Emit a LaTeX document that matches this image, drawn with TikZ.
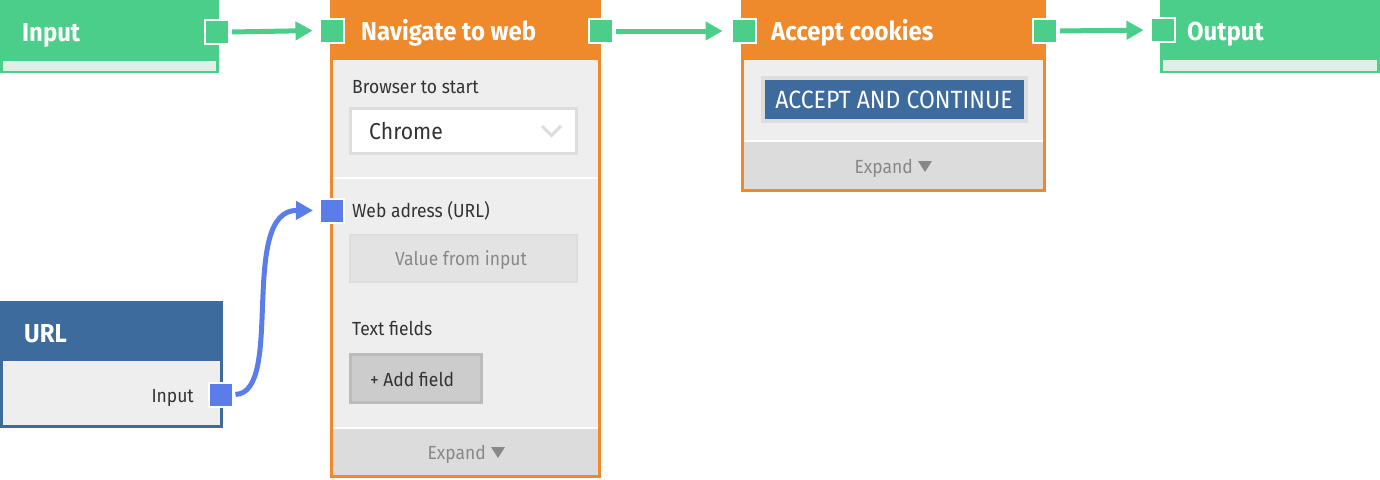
\documentclass[tikz,border=0pt]{standalone}
\usepackage{fontspec}
\setmainfont{Fira Sans}[FakeStretch=0.92]
\usetikzlibrary{arrows.meta}
\definecolor{grn}{HTML}{4ACE8A}
\definecolor{grnstrip}{HTML}{E1EDE6}
\definecolor{org}{HTML}{EE8A2C}
\definecolor{hblue}{HTML}{3D6B9E}
\definecolor{pblue}{HTML}{5A7DEA}
\definecolor{lgray}{HTML}{EEEEEE}
\definecolor{egray}{HTML}{DCDCDC}
\definecolor{bgray}{HTML}{DDDDDD}
\definecolor{vgray}{HTML}{E3E3E3}
\definecolor{agray}{HTML}{CCCCCC}
\definecolor{abord}{HTML}{BBBBBB}
\definecolor{dtext}{HTML}{333333}
\definecolor{gtext}{HTML}{888888}
\begin{document}
\begin{tikzpicture}[x=1pt,y=-1pt,
  box/.style={rectangle, anchor=north west, inner sep=0pt, outer sep=0pt},
  port/.style={rectangle, inner sep=0pt, minimum size=24pt, draw=white, line width=2pt},
  gport/.style={port, fill=grn},
  bport/.style={port, fill=pblue},
  hdr/.style={anchor=base west, inner sep=0pt, text=white, font=\bfseries\fontsize{26}{30}\selectfont},
  lbl/.style={anchor=base west, inner sep=0pt, text=dtext, font=\fontsize{19}{23}\selectfont},
  exp/.style={anchor=base, inner sep=0pt, text=gtext, font=\fontsize{19}{23}\selectfont},
  flow/.style={line width=5pt, -{Triangle[length=17pt,width=18pt]}},
]
\useasboundingbox (0,0) rectangle (1380,479);

% ---------- Input node ----------
\node[box, fill=grn, minimum width=219pt, minimum height=73pt] (inbox) at (0,0) {};
\node[box, fill=grnstrip, minimum width=213pt, minimum height=10pt] (instrip) at (3,61) {};
\node[hdr] (intitle) at (22,41) {Input};
\node[gport] (inP) at (217,32) {};

% ---------- Navigate to web ----------
\node[box, fill=org, minimum width=271pt, minimum height=478pt] (nav) at (330,0) {};
\node[box, fill=lgray, minimum width=265pt, minimum height=368pt] (navbody) at (333,60) {};
\node[box, fill=egray, minimum width=265pt, minimum height=47pt] (navexp) at (333,428) {};
\draw[white, line width=1.5pt] (333,178) -- (598,178);
\draw[white, line width=1.5pt] (333,428) -- (598,428);
\node[hdr] (navtitle) at (361,40) {Navigate to web};
\node[gport] (navIn) at (331.5,30.5) {};
\node[gport] (navOut) at (601,31) {};
\node[lbl] (browser) at (352,93) {Browser to start};
\node[box, fill=white, draw=bgray, line width=3pt, minimum width=226pt, minimum height=45pt] (chrome) at (350.5,108.5) {};
\node[lbl, font=\fontsize{23}{28}\selectfont] (chrometxt) at (369,139) {Chrome};
\draw[bgray, line width=3pt] (542,126) -- (551.5,135.5) -- (561,126);
\node[bport] (urlIn) at (332,210.5) {};
\node[lbl] (weblbl) at (352,217) {Web adress (URL)};
\node[box, fill=vgray, draw=bgray, line width=2pt, minimum width=227pt, minimum height=47pt] (valbox) at (350,235) {};
\node[exp] (valtxt) at (461,265) {Value from input};
\node[lbl] (textfields) at (352,335) {Text fields};
\node[box, fill=agray, draw=abord, line width=3pt, minimum width=131pt, minimum height=48pt] (addbtn) at (350.5,354.5) {};
\node[exp, text=dtext] (addtxt) at (412,386) {+ Add field};
\node[exp, anchor=base east] (navexptxt) at (486,459) {Expand};
\fill[gtext] (491,447) -- (505,447) -- (498,458) -- cycle;

% ---------- URL node ----------
\node[box, fill=hblue, minimum width=223pt, minimum height=127pt] (url) at (0,301) {};
\node[box, fill=lgray, minimum width=217pt, minimum height=64pt] (urlbody) at (3,361) {};
\node[hdr] (urltitle) at (24,342) {URL};
\node[lbl, anchor=base east] (urlinput) at (194,402) {Input};
\node[bport] (urlOut) at (220.5,394.5) {};

% ---------- Accept cookies ----------
\node[box, fill=org, minimum width=305pt, minimum height=192pt] (acc) at (741,0) {};
\node[box, fill=lgray, minimum width=299pt, minimum height=81pt] (accbody) at (744,60) {};
\node[box, fill=egray, minimum width=299pt, minimum height=48pt] (accexp) at (744,141) {};
\draw[white, line width=1.5pt] (744,141) -- (1043,141);
\node[hdr] (acctitle) at (771,40) {Accept cookies};
\node[gport] (accIn) at (743.5,31) {};
\node[gport] (accOut) at (1045,31) {};
\node[box, fill=hblue, draw=bgray, line width=4pt, minimum width=263pt, minimum height=43pt] (accbtn) at (763,78) {};
\node[anchor=base, inner sep=0pt, text=white, font=\fontsize{25}{29}\selectfont] (accbtntxt) at (894,108) {ACCEPT AND CONTINUE};
\node[exp, anchor=base east] (accexptxt) at (913,173) {Expand};
\fill[gtext] (918,161) -- (932,161) -- (925,172) -- cycle;

% ---------- Output node ----------
\node[box, fill=grn, minimum width=220pt, minimum height=73pt] (outbox) at (1160,0) {};
\node[box, fill=grnstrip, minimum width=214pt, minimum height=11pt] (outstrip) at (1163,60) {};
\node[hdr] (outtitle) at (1187,40) {Output};
\node[gport] (outIn) at (1162.5,30) {};

% ---------- connectors ----------
\draw[flow, grn, shorten <=2pt, shorten >=6pt] (inP.east) -- (navIn.west);
\draw[flow, grn, shorten <=2pt, shorten >=8pt] (navOut.east) -- (accIn.west);
\draw[flow, grn, shorten <=2pt, shorten >=6pt] (accOut.east) -- (outIn.west);
\draw[flow, pblue, shorten <=2pt, shorten >=6pt] (urlOut.east) .. controls (285,393) and (238,210) .. (urlIn.west);
\end{tikzpicture}
\end{document}
